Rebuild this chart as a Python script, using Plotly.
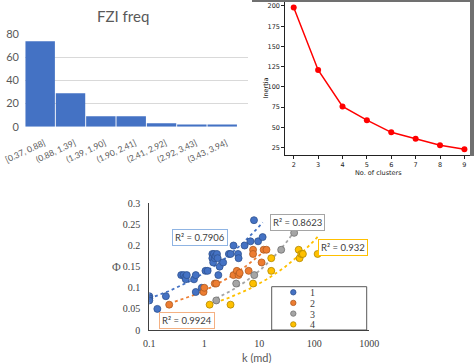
import numpy as np
import plotly.graph_objects as go

W, H = 474, 363

# ---------------- data ----------------
# FZI histogram
fzi_bins = ["[0.37, 0.88]", "(0.88, 1.39]", "(1.39, 1.90]", "(1.90, 2.41]",
            "(2.41, 2.92]", "(2.92, 3.43]", "(3.43, 3.94]"]
fzi_counts = [74, 29, 9, 9, 3, 2, 2]

# Elbow curve
n_clusters = [2, 3, 4, 5, 6, 7, 8, 9]
inertia = [198, 121, 76, 59, 44, 36, 28, 23]

# k-phi scatter per cluster
c1_k = [0.10, 0.10, 0.10, 0.14, 0.20, 0.38, 0.42, 0.45, 0.46, 0.48, 0.65, 0.70, 0.70,
        0.90, 1.05, 1.15, 1.40, 1.40, 1.45, 1.50, 1.55, 1.60, 1.70, 1.75, 1.80, 1.90,
        2.20, 2.80, 3.00, 3.40, 4.10, 4.20, 5.40, 6.90, 8.00, 9.50, 11.5]
c1_phi = [0.080, 0.075, 0.070, 0.050, 0.080, 0.130, 0.130, 0.125, 0.120, 0.130, 0.120, 0.130, 0.090,
          0.100, 0.140, 0.140, 0.180, 0.170, 0.160, 0.180, 0.170, 0.175, 0.180, 0.170, 0.130, 0.150,
          0.160, 0.180, 0.180, 0.200, 0.180, 0.170, 0.200, 0.210, 0.260, 0.210, 0.220]
c2_k = [0.23, 0.97, 1.00, 1.55, 1.65, 3.40, 3.90, 4.20, 4.40, 6.40, 7.70, 7.70, 11.0, 12.0, 13.5]
c2_phi = [0.060, 0.090, 0.100, 0.110, 0.110, 0.130, 0.140, 0.130, 0.135, 0.140, 0.190, 0.180, 0.160, 0.190, 0.190]
c3_k = [1.65, 3.80, 8.10, 25.0, 43.0]
c3_phi = [0.070, 0.110, 0.130, 0.190, 0.230]
c4_k = [1.25, 3.00, 7.70, 16.5, 16.5, 52.0, 54.0, 58.0, 62.0, 115.0]
c4_phi = [0.060, 0.060, 0.110, 0.170, 0.140, 0.190, 0.170, 0.180, 0.180, 0.180]

cluster_names = ["1", "2", "3", "4"]
r2_labels = ["R² = 0.7906", "R² = 0.9924", "R² = 0.8623", "R² = 0.932"]

phi_ticks = [0, 0.05, 0.1, 0.15, 0.2, 0.25, 0.3]
phi_ticktext = ["0", "0.05", "0.1", "0.15", "0.2", "0.25", "0.3"]
k_ticks = [0.1, 1, 10, 100, 1000]
k_ticktext = ["0.1", "1", "10", "100", "1000"]

# ---------------- style ----------------
fills = ["#4472C4", "#ED7D31", "#A5A5A5", "#FFC000"]
edges = ["#2F528F", "#AE5A21", "#6F6F6F", "#B08600"]
box_borders = ["#8FB4E3", "#F4B183", "#A5A5A5", "#FFC000"]
box_pos = [(200, 237.5), (186.5, 320), (297.5, 222), (343, 247)]

def fx(px):
    return px / W

def fy(py):
    return 1 - py / H

def note(text, x, y, font, **kw):
    d = dict(text=text, x=fx(x), y=fy(y), xref="paper", yref="paper", showarrow=False,
             xanchor="center", yanchor="middle", font=font)
    d.update(kw)
    return d

fig = go.Figure()

# Histogram
fig.add_trace(go.Bar(x=fzi_bins, y=fzi_counts, marker=dict(color="#4472C4", line=dict(width=0)),
                     xaxis="x", yaxis="y", showlegend=False))

# Elbow
fig.add_trace(go.Scatter(x=n_clusters, y=inertia, mode="lines+markers",
                         line=dict(color="#FF0000", width=1.5),
                         marker=dict(color="#FF0000", size=6),
                         xaxis="x2", yaxis="y2", showlegend=False))

# Scatter clusters + power trendlines
ks = [c1_k, c2_k, c3_k, c4_k]
phis = [c1_phi, c2_phi, c3_phi, c4_phi]
for i in range(4):
    k = np.array(ks[i]); p = np.array(phis[i])
    b, lna = np.polyfit(np.log(k), np.log(p), 1)
    kk = np.geomspace(k.min(), k.max(), 60)
    fig.add_trace(go.Scatter(x=kk, y=np.exp(lna) * kk ** b, mode="lines",
                             line=dict(color=fills[i], width=1.8, dash="dot"),
                             xaxis="x3", yaxis="y3", showlegend=False, hoverinfo="skip"))
for i in range(4):
    fig.add_trace(go.Scatter(x=ks[i], y=phis[i], mode="markers", name=cluster_names[i],
                             marker=dict(color=fills[i], size=7, line=dict(color=edges[i], width=0.8)),
                             xaxis="x3", yaxis="y3", showlegend=False))

fig.update_layout(
    width=W, height=H, margin=dict(l=0, r=0, t=0, b=0, autoexpand=False),
    paper_bgcolor="white", plot_bgcolor="rgba(0,0,0,0)",
    bargap=0.03, showlegend=False,
    xaxis=dict(domain=[fx(25), fx(248)], range=[-0.5, 6.85], tickangle=-25,
               showgrid=False, showline=False, ticks="", zeroline=False, automargin=False,
               tickfont=dict(family="Lato, sans-serif", size=8.5, color="#595959"),
               anchor="y", ticklabelstandoff=9, ticklabelshift=4),
    yaxis=dict(domain=[fy(126.7), fy(34.3)], range=[0, 80], tickvals=[0, 20, 40, 60, 80],
               showgrid=True, gridcolor="#D9D9D9", gridwidth=1, zeroline=False, showline=False,
               automargin=False,
               tickfont=dict(family="Lato, sans-serif", size=11, color="#595959"),
               anchor="x", ticklabelstandoff=5),
    xaxis2=dict(domain=[fx(285.3), fx(471)], range=[1.655, 9.27], tickvals=n_clusters,
                showline=True, linecolor="#222", linewidth=1, mirror=True, showgrid=False, zeroline=False,
                ticks="outside", ticklen=3, tickcolor="#222", automargin=False,
                tickfont=dict(family="DejaVu Sans", size=6.5, color="#222"),
                anchor="y2"),
    yaxis2=dict(domain=[fy(155), fy(2)], range=[16.0, 204.9], tickvals=[25, 50, 75, 100, 125, 150, 175, 200],
                showline=True, linecolor="#222", linewidth=1, mirror=True, showgrid=False, zeroline=False,
                ticks="outside", ticklen=3, tickcolor="#222", automargin=False,
                tickfont=dict(family="DejaVu Sans", size=6.5, color="#222"),
                anchor="x2"),
    xaxis3=dict(domain=[fx(149.3), fx(369.3)], type="log", range=[-1, 3],
                tickvals=k_ticks, ticktext=k_ticktext, showgrid=False, zeroline=False,
                showline=True, linecolor="#404040", linewidth=1, ticks="", automargin=False,
                tickfont=dict(family="Liberation Serif, serif", size=10, color="#404040"),
                ticklabelstandoff=4, anchor="y3"),
    yaxis3=dict(domain=[fy(330), fy(203.3)], range=[0, 0.3],
                tickvals=phi_ticks, ticktext=phi_ticktext, showgrid=False, zeroline=False,
                showline=True, linecolor="#404040", linewidth=1, ticks="", automargin=False,
                tickfont=dict(family="Liberation Serif, serif", size=10, color="#404040"),
                ticklabelstandoff=6, anchor="x3"),
)

annotations = [
    note("FZI freq", 122.5, 16.5, dict(family="Lato, sans-serif", size=15, color="#595959")),
    note("No. of clusters", 378.5, 173, dict(family="DejaVu Sans", size=6.5, color="#222")),
    note("Inertia", 265.5, 88, dict(family="DejaVu Sans", size=6.5, color="#222"), textangle=-90),
    note("Φ", 116.5, 267, dict(family="Liberation Serif, serif", size=12, color="#595959")),
    note("k (md)", 256.7, 357.5, dict(family="Lato, sans-serif", size=11, color="#595959")),
]
for i in range(4):
    annotations.append(note(r2_labels[i], box_pos[i][0], box_pos[i][1],
                            dict(family="Lato, sans-serif", size=9.5, color="#404040"),
                            bgcolor="white", bordercolor=box_borders[i], borderwidth=1, borderpad=2))

# Manual legend
shapes = [
    dict(type="rect", xref="paper", yref="paper", x0=fx(271.7), x1=fx(366.7), y0=fy(330), y1=fy(286.7),
         line=dict(color="#595959", width=1), fillcolor="white", layer="below"),
    # grey frame around elbow panel
    dict(type="rect", xref="paper", yref="paper", x0=fx(252), x1=fx(474), y0=fy(2), y1=fy(0),
         line=dict(width=0), fillcolor="#707070"),
    dict(type="rect", xref="paper", yref="paper", x0=fx(470), x1=fx(474), y0=fy(156), y1=fy(0),
         line=dict(width=0), fillcolor="#707070"),
]
rows = [292.3, 302.9, 313.6, 324.4]
for i in range(4):
    r = 2.7
    shapes.append(dict(type="circle", xref="paper", yref="paper",
                       x0=fx(293.3 - r), x1=fx(293.3 + r), y0=fy(rows[i] + r), y1=fy(rows[i] - r),
                       fillcolor=fills[i], line=dict(color=edges[i], width=0.8)))
    annotations.append(note(cluster_names[i], 312, rows[i] + 0.5,
                            dict(family="Liberation Serif, serif", size=10, color="#404040")))

fig.update_layout(annotations=annotations, shapes=shapes)
fig.write_html("out.html", config=dict(displayModeBar=False),
               post_script="document.body.style.margin='0';document.body.style.overflow='hidden';")
